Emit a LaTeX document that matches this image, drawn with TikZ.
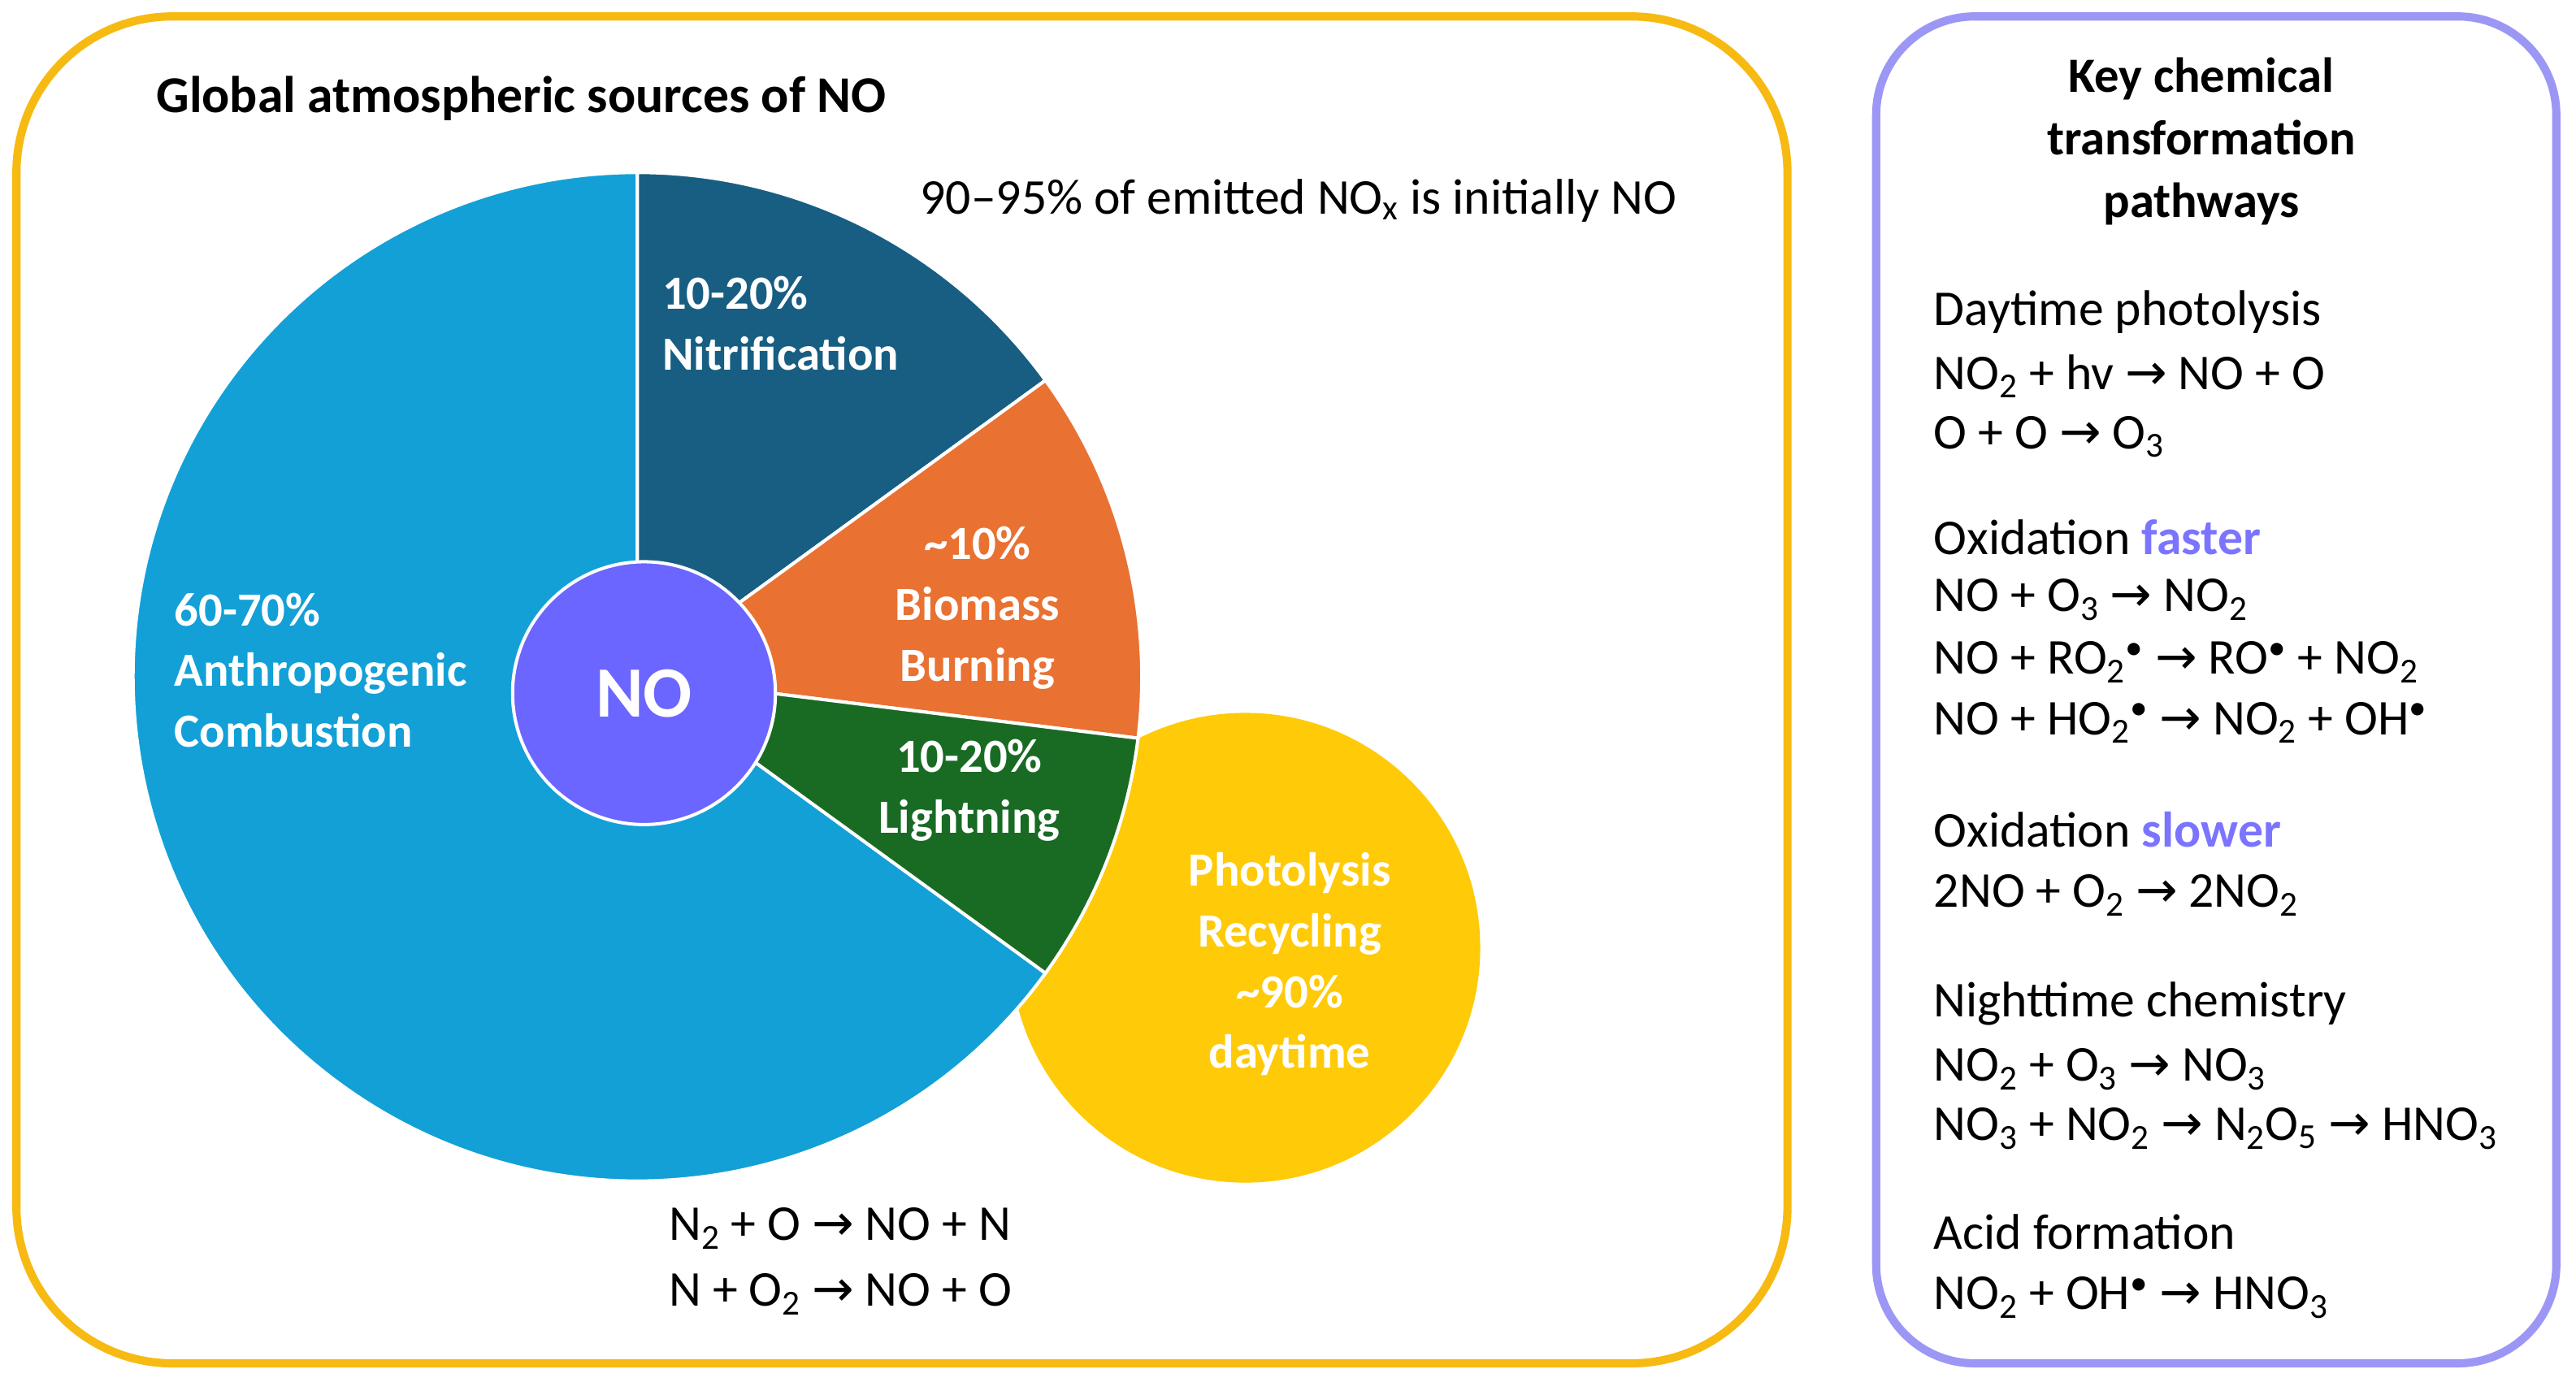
\documentclass[tikz,border=0pt]{standalone}
\usepackage{fontspec}
\setmainfont{Carlito}
\newfontfamily\arrfont{DejaVu Sans}
\newcommand{\ar}{{\arrfont\char"2192}}
\newcommand{\sub}[1]{\textsubscript{#1}}
\newcommand{\rad}{\textsuperscript{\textbullet}}
\definecolor{anth}{HTML}{12A0D7}
\definecolor{nitr}{HTML}{175E82}
\definecolor{biom}{HTML}{E97132}
\definecolor{ligh}{HTML}{196B24}
\definecolor{yel}{HTML}{FFCA08}
\definecolor{nocol}{HTML}{6B66FF}
\definecolor{obox}{HTML}{F7BA12}
\definecolor{pbox}{HTML}{9C97F5}
\definecolor{hl}{HTML}{7B74FF}
\begin{document}
\begin{tikzpicture}[x=1pt,y=-1pt,
  txt/.style={anchor=west,font=\fontsize{30.5}{34}\selectfont,inner sep=0pt},
  wtxt/.style={align=center,text=white,font=\fontsize{29}{37}\selectfont\bfseries,inner sep=0pt},
  slice/.style={draw=white,line width=2pt}]
\useasboundingbox (0,0) rectangle (1568,841);
\fill[white] (0,0) rectangle (1568,841);
\draw[obox,line width=5pt,rounded corners=95pt] (10,10) rectangle (1088,830);
\draw[pbox,line width=5pt,rounded corners=60pt] (1142,10) rectangle (1556,830);
\node[circle,fill=yel,minimum size=286pt,inner sep=0pt] (yc) at (758,577) {};
\coordinate (c) at (388,412);
\fill[anth,slice] (c) -- ++(36:307) arc[start angle=36,end angle=270,radius=307] -- cycle;
\fill[nitr,slice] (c) -- ++(-90:307) arc[start angle=-90,end angle=-36,radius=307] -- cycle;
\fill[biom,slice] (c) -- ++(-36:307) arc[start angle=-36,end angle=7,radius=307] -- cycle;
\fill[ligh,slice] (c) -- ++(7:307) arc[start angle=7,end angle=36,radius=307] -- cycle;
\node[circle,fill=nocol,draw=white,line width=2pt,minimum size=160pt,inner sep=0pt,text=white,font=\fontsize{44}{48}\selectfont\bfseries] (no) at (392,422) {NO};
\node[txt,font=\fontsize{31.5}{34}\selectfont\bfseries] (title) at (95,60) {Global atmospheric sources of NO};
\node[txt] (emit) at (560,122) {90–95\% of emitted NO\sub{x} is initially NO};
\node[wtxt,anchor=west,align=left] (nit) at (403,197) {10-20\%\\Nitrification};
\node[wtxt] (bio) at (595,370) {\textasciitilde10\%\\Biomass\\Burning};
\node[wtxt,anchor=west,align=left] (ant) at (106,408) {60-70\%\\Anthropogenic\\Combustion};
\node[wtxt] (lig) at (590,481) {10-20\%\\Lightning};
\node[wtxt] (pho) at (785,587) {Photolysis\\Recycling\\\textasciitilde90\%\\daytime};
\node[txt] (e1) at (407,748) {N\sub{2} + O \ar{} NO + N};
\node[txt] (e2) at (407,788) {N + O\sub{2} \ar{} NO + O};
\node[align=center,font=\fontsize{30}{38}\selectfont\bfseries,inner sep=0pt] (kt) at (1340,86) {Key chemical\\transformation\\pathways};
\node[txt] at (1177,190) {Daytime photolysis};
\node[txt] at (1177,229) {NO\sub{2} + hv \ar{} NO + O};
\node[txt] at (1177,266) {O + O \ar{} O\sub{3}};
\node[txt] at (1177,327) {Oxidation \textcolor{hl}{\bfseries faster}};
\node[txt] at (1177,365) {NO + O\sub{3} \ar{} NO\sub{2}};
\node[txt] at (1177,403) {NO + RO\sub{2}\rad{} \ar{} RO\rad{} + NO\sub{2}};
\node[txt] at (1177,440) {NO + HO\sub{2}\rad{} \ar{} NO\sub{2} + OH\rad};
\node[txt] at (1177,505) {Oxidation \textcolor{hl}{\bfseries slower}};
\node[txt] at (1177,545) {2NO + O\sub{2} \ar{} 2NO\sub{2}};
\node[txt] at (1177,611) {Nighttime chemistry};
\node[txt] at (1177,651) {NO\sub{2} + O\sub{3} \ar{} NO\sub{3}};
\node[txt] at (1177,687) {NO\sub{3} + NO\sub{2} \ar{} N\sub{2}O\sub{5} \ar{} HNO\sub{3}};
\node[txt] at (1177,750) {Acid formation};
\node[txt] at (1177,790) {NO\sub{2} + OH\rad{} \ar{} HNO\sub{3}};
\end{tikzpicture}
\end{document}
